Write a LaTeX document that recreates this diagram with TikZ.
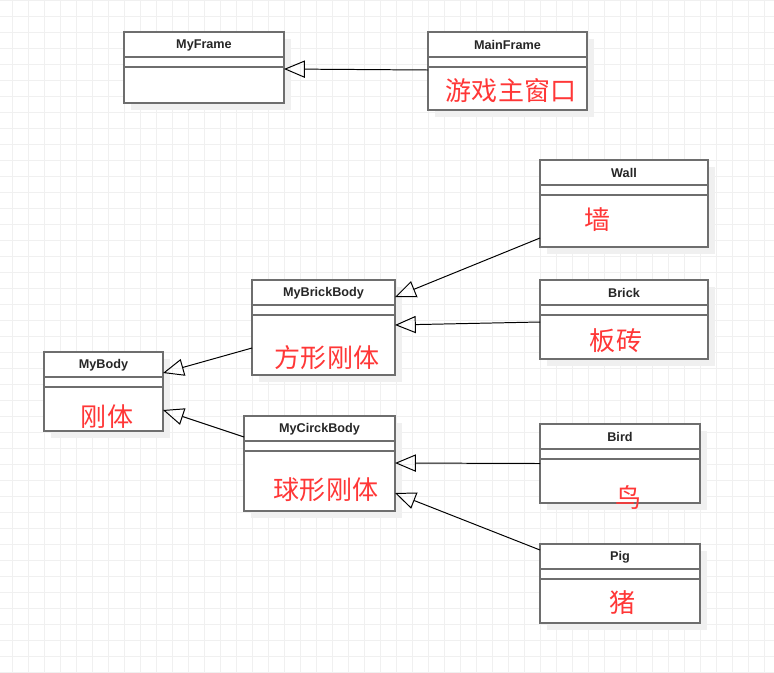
\documentclass[tikz,border=0pt]{standalone}
\usepackage{fontspec}
\setmainfont{Liberation Sans}
\newfontfamily\cjk{Noto Sans CJK SC}
\usepackage{tikz}
\usetikzlibrary{arrows.meta}
\usetikzlibrary{shadows}
\tikzset{>=latex}

\definecolor{boxgray}{RGB}{110,110,110}
\definecolor{labelred}{RGB}{255,55,55}
\definecolor{gridgray}{RGB}{240,240,240}

\newlength\pxu
\setlength\pxu{0.025cm}

\tikzset{
    classbox/.style={draw=boxgray, line width=1pt, fill=white, anchor=north west,
        inner sep=0pt, outer sep=0pt,
        general shadow={fill=black!6, shadow xshift=0.175cm, shadow yshift=-0.175cm}},
    classline/.style={draw=boxgray, line width=1pt},
    classtitle/.style={font=\fontsize{9pt}{10pt}\selectfont\bfseries, text=black!85, inner sep=0pt},
    classtext/.style={font=\cjk\fontsize{18.5pt}{20pt}\selectfont, text=labelred, inner sep=0pt},
    extends/.style={-{Triangle[open, length=0.52cm, width=0.43cm]}, line width=0.7pt},
    gridline/.style={draw=gridgray, line width=0.6pt}
}

% box, header text and the two separator lines of one class
\newcommand{\umlclass}[6]{%
    \node [classbox, minimum width=#4\pxu, minimum height=#5\pxu] (#1) at (#2,#3) {};
    \node [classtitle] (#1title) at ([shift={(0,13.2)}]#1.north) {#6};
    \draw [classline] ([shift={(0,25)}]#1.north west) -- ([shift={(0,25)}]#1.north east);
    \draw [classline] ([shift={(0,35)}]#1.north west) -- ([shift={(0,35)}]#1.north east);
}

\begin{document}
\begin{tikzpicture}[x=0.025cm, y=-0.025cm]
    \useasboundingbox (0,0) rectangle (774,672);
    \fill [white] (0,0) rectangle (774,672);
    % background grid
    \foreach \gx in {12,28,...,764}
        \draw [gridline] (\gx,0) -- (\gx,672);
    \foreach \gy in {0,16,...,672}
        \draw [gridline] (0,\gy) -- (774,\gy);

    % classes
    \umlclass{MyFrame}{124}{32}{160}{71}{MyFrame}
    \umlclass{MainFrame}{428}{32}{159}{78}{MainFrame}
    \umlclass{Wall}{540}{160}{168}{87}{Wall}
    \umlclass{Brick}{540}{280}{168}{79}{Brick}
    \umlclass{MyBrickBody}{252}{280}{143}{95}{MyBrickBody}
    \umlclass{MyBody}{44}{352}{119}{79}{MyBody}
    \umlclass{MyCirckBody}{244}{416}{151}{95}{MyCirckBody}
    \umlclass{Bird}{540}{424}{160}{79}{Bird}
    \umlclass{Pig}{540}{544}{160}{79}{Pig}

    % red labels
    \node [classtext] (MainFrametext) at (511,91) {游戏主窗口};
    \node [classtext] (Walltext) at (597,220) {墙};
    \node [classtext] (Bricktext) at (616,341) {板砖};
    \node [classtext] (MyBrickBodytext) at (327,358) {方形刚体};
    \node [classtext] (MyBodytext) at (107,417) {刚体};
    \node [classtext] (MyCirckBodytext) at (326,490) {球形刚体};
    \node [classtext] (Birdtext) at (628,497) {鸟};
    \node [classtext] (Pigtext) at (622,603) {猪};

    % generalisations
    \draw [extends] ([shift={(0,-1)}]MainFrame.west) -- ([shift={(0,1.5)}]MyFrame.east);
    \draw [extends] ([shift={(0,-9)}]Wall.south west) -- ([shift={(0,17)}]MyBrickBody.north east);
    \draw [extends] ([shift={(0,2.5)}]Brick.west) -- ([shift={(0,45)}]MyBrickBody.north east);
    \draw [extends] ([shift={(0,20.5)}]MyBrickBody.west) -- ([shift={(0,21)}]MyBody.north east);
    \draw [extends] ([shift={(0,21)}]MyCirckBody.north west) -- ([shift={(0,58)}]MyBody.north east);
    \draw [extends] (Bird.west) -- ([shift={(0,47)}]MyCirckBody.north east);
    \draw [extends] ([shift={(0,6)}]Pig.north west) -- ([shift={(0,77)}]MyCirckBody.north east);
\end{tikzpicture}
\end{document}
